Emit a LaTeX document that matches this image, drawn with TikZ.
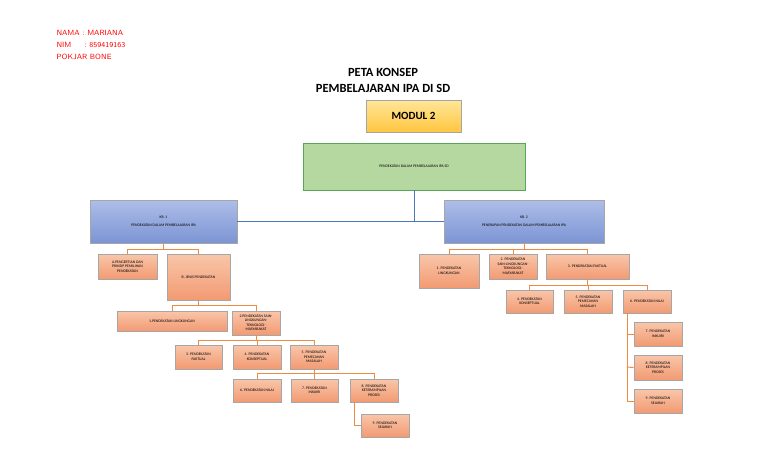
\documentclass[tikz,border=0pt]{standalone}
\usepackage{fontspec}
\setmainfont{Carlito}
\definecolor{salT}{HTML}{F9C6AA}
\definecolor{salB}{HTML}{F29A72}
\definecolor{bluT}{HTML}{AEBEE8}
\definecolor{bluB}{HTML}{7C94D4}
\definecolor{grn}{HTML}{B5D7A0}
\definecolor{orl}{HTML}{F08A3E}
\definecolor{bll}{HTML}{4A79B8}
\begin{document}
\begin{tikzpicture}[x=1pt,y=-1pt,
  box/.style={draw=gray!70,line width=0.9pt,inner sep=1pt,align=center,font=\fontsize{3.8}{4.5}\selectfont},
  sal/.style={box,top color=salT,bottom color=salB},
  blu/.style={box,top color=bluT,bottom color=bluB},
  oc/.style={draw=orl,line width=1pt},
  bc/.style={draw=bll,line width=1pt}]
\useasboundingbox (0,0) rectangle (768,466);
\newcommand{\bx}[6]{\node[#1,minimum width=#4-#2,minimum height=#5-#3] (#6) at ({(#2+#4)/2},{(#3+#5)/2})}
\node[red,anchor=west,font=\sffamily\fontsize{7.5}{12}\selectfont,align=left] (hdr) at (53,45) {NAMA : MARIANA\\NIM \ \ \ \ : 859419163\\POKJAR BONE};
\node[font=\bfseries\fontsize{12.5}{16}\selectfont,align=center] (title) at (383,80) {PETA KONSEP\\PEMBELAJARAN IPA DI SD};
\bx{box,top color=yellow!50!orange!40!white,bottom color=orange!60!yellow!75!white,font=\bfseries\fontsize{11}{12}\selectfont}{366}{100}{461}{132}{m} {MODUL 2};
\bx{box,fill=grn,draw=gray!70!green}{303}{143}{525}{190}{g} {PENDEKATAN DALAM PEMBELAJARAN IPA SD};
\bx{blu}{90}{200}{237}{243}{k1} {KB. 1\\[3pt]PENDEKATAN DALAM PEMBELAJARAN IPA};
\bx{blu}{444}{200}{604}{243}{k2} {KB. 2\\[3pt]PENERAPAN PENDEKATAN DALAM PEMBELAJARAN IPA};
\draw[bc] (g.south) -- (414,221) coordinate (j);
\draw[bc] (k1.east |- j) -- (k2.west |- j);
% left
\bx{sal}{98}{254}{157}{279}{a} {A.PENGERTIAN DAN\\PRINSIP PEMILIHAN\\PENDEKATAN};
\bx{sal}{167}{254}{230}{300}{b} {B. JENIS PENDEKATAN};
\draw[oc] (k1.south) -- ++(0,6) coordinate (p1);
\draw[oc] (a.north) |- (p1) -| (b.north);
\bx{sal}{117}{311}{227}{331}{l1} {1.PENDEKATAN LINGKUNGAN};
\bx{sal}{232}{311}{280}{335}{l2} {2.PENDEKATAN SAIN-\\LINGKUNGAN-\\TEKNOLOGI-\\MASYARAKAT};
\draw[oc] (b.south) -- ++(0,5) coordinate (p2);
\draw[oc] (l1.north) |- (p2) -| (l2.north);
\bx{sal}{175}{345}{222}{369}{l3} {3. PENDEKATAN\\FAKTUAL};
\bx{sal}{233}{345}{281}{369}{l4} {4. PENDEKATAN\\KONSEPTUAL};
\bx{sal}{290}{345}{338}{369}{l5} {5. PENDEKATAN\\PEMECAHAN\\MASALAH};
\draw[oc] (l2.south) -- ++(0,5) coordinate (p3);
\draw[oc] (l3.north) |- (p3) -| (l5.north);
\draw[oc] (l4.north) -- (l4.north |- p3);
\bx{sal}{233}{379}{281}{402}{l6} {6. PENDEKATAN NILAI};
\bx{sal}{291}{379}{338}{402}{l7} {7. PENDEKATAN\\INKUIRI};
\bx{sal}{350}{379}{398}{402}{l8} {8. PENDEKATAN\\KETERAMPILAN\\PROSES};
\draw[oc] (l5.south) -- ++(0,4) coordinate (p4);
\draw[oc] (l6.north) |- (p4) -| (l8.north);
\draw[oc] (l7.north) -- (l7.north |- p4);
\bx{sal}{361}{414}{409}{437}{l9} {9. PENDEKATAN\\SEJARAH};
\draw[oc] (354,402) |- (l9.west);
% right
\bx{sal}{419}{254}{479}{288}{r1} {1. PENDEKATAN\\LINGKUNGAN};
\bx{sal}{489}{254}{537}{279}{r2} {2. PENDEKATAN\\SAIN-LINGKUNGAN-\\TEKNOLOGI-\\MASYARAKAT};
\bx{sal}{546}{254}{629}{279}{r3} {3. PENDEKATAN FAKTUAL};
\draw[oc] (k2.south) -- ++(0,6) coordinate (q1);
\draw[oc] (r1.north) |- (q1) -| (r3.north);
\draw[oc] (r2.north) -- (r2.north |- q1);
\bx{sal}{506}{290}{553}{313}{r4} {4. PENDEKATAN\\KONSEPTUAL};
\bx{sal}{564}{290}{612}{313}{r5} {5. PENDEKATAN\\PEMECAHAN\\MASALAH};
\bx{sal}{623}{290}{671}{313}{r6} {6. PENDEKATAN NILAI};
\draw[oc] (r3.south) -- ++(0,6) coordinate (q2);
\draw[oc] (r4.north) |- (q2) -| (r6.north);
\draw[oc] (r5.north) -- (r5.north |- q2);
\bx{sal}{634}{322}{682}{346}{r7} {7. PENDEKATAN\\INKUIRI};
\bx{sal}{634}{355}{682}{380}{r8} {8. PENDEKATAN\\KETERAMPILAN\\PROSES};
\bx{sal}{634}{389}{682}{413}{r9} {9. PENDEKATAN\\SEJARAH};
\draw[oc] (627,313) |- (r9.west);
\draw[oc] (627,334) -- (r7.west);
\draw[oc] (627,367) -- (r8.west);
\end{tikzpicture}
\end{document}
